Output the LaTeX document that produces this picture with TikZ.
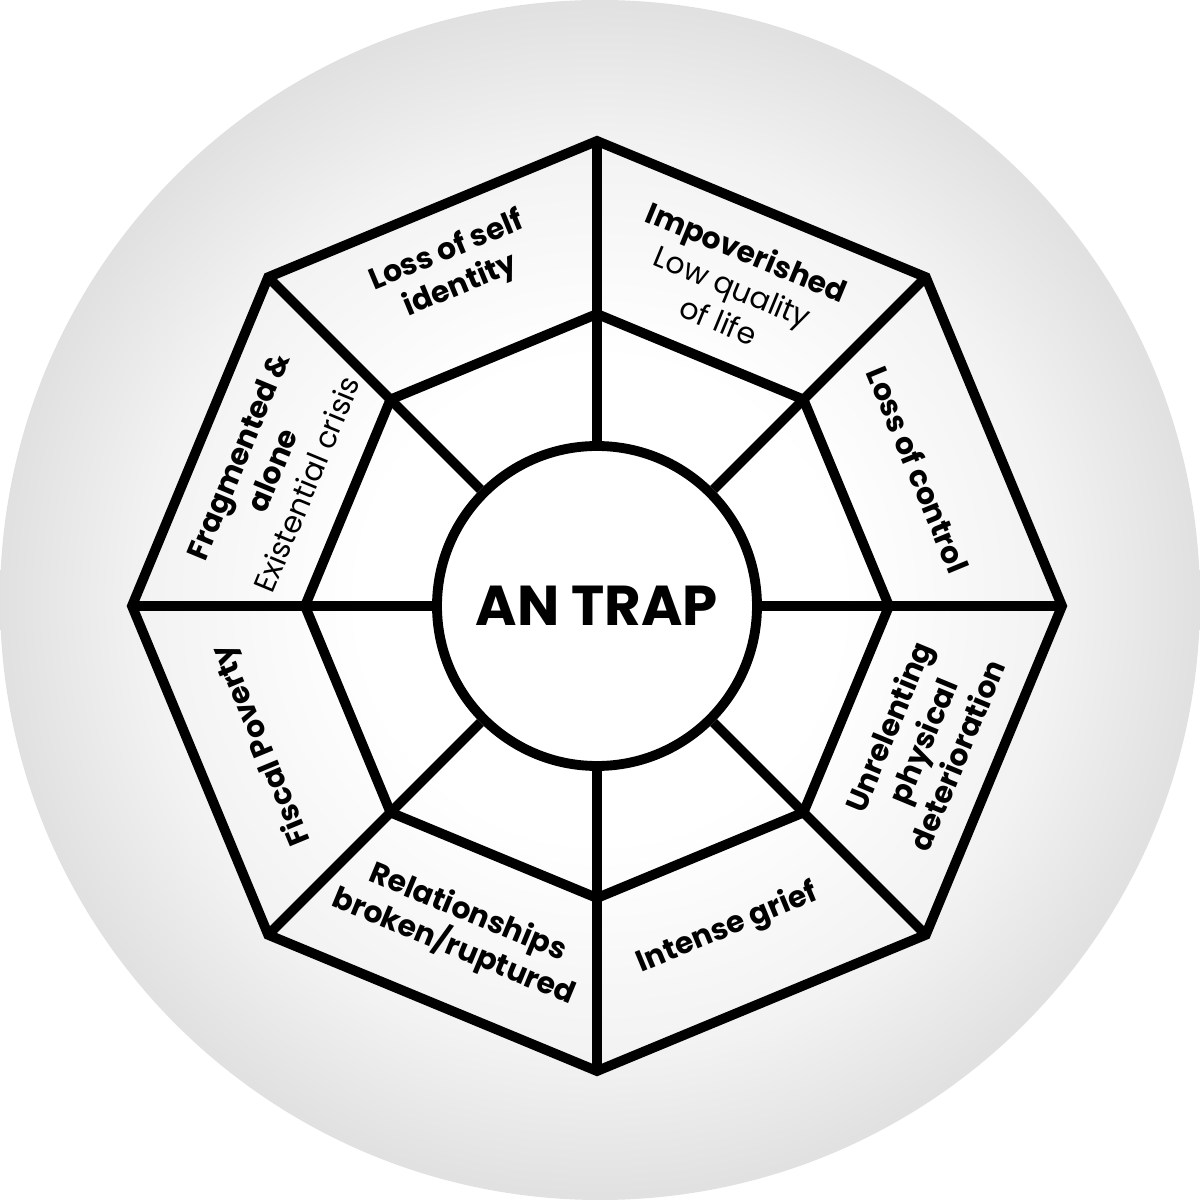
\documentclass[tikz,border=0pt]{standalone}
\usepackage{fontspec}
\setmainfont{Poppins}
\usetikzlibrary{positioning}
\pgfdeclareradialshading{discshade}{\pgfpoint{0bp}{0bp}}{color(0bp)=(white); color(10bp)=(white); color(19bp)=(black!5); color(25bp)=(black!12); color(50bp)=(black!12)}
\begin{document}
\begin{tikzpicture}[x=0.1mm, y=0.1mm, line width=2.8pt, line join=miter,
  lbl/.style={align=center, inner sep=0pt, font=\fontsize{8.5}{10.6}\selectfont\bfseries},
  hub/.style={circle, draw, fill=white, minimum size=3.2cm, inner sep=0pt, font=\fontsize{16}{18}\selectfont\bfseries}]
\useasboundingbox (-597,-594) rectangle (603,606);
\shade[shading=discshade] (3,6) circle (600);
\foreach \a [count=\i] in {0,45,...,315} {
  \coordinate (o\i) at (\a:465);
  \coordinate (n\i) at (\a:292);
}
\node[hub] (trap) at (0,0) {AN TRAP};
\draw (o1) -- (o2) -- (o3) -- (o4) -- (o5) -- (o6) -- (o7) -- (o8) -- cycle;
\draw (n1) -- (n2) -- (n3) -- (n4) -- (n5) -- (n6) -- (n7) -- (n8) -- cycle;
\foreach \i in {1,...,8} \draw (trap) -- (o\i);
\node[lbl, rotate=22.5] (self) at (113:366) {Loss of self\\identity};
\node[lbl, rotate=-22.5] (poor) at (67:348) {Impoverished\\\mdseries Low quality\\\mdseries of life};
\node[lbl, rotate=-67.5] (ctrl) at (23:349) {Loss of control};
\node[lbl, rotate=67.5] (body) at (-22.5:352) {Unrelenting\\physical\\deterioration};
\node[lbl, rotate=22.5] (grief) at (-68:348) {Intense grief};
\node[lbl, rotate=-22.5] (rel) at (-112.8:352) {Relationships\\broken/ruptured};
\node[lbl, rotate=112.5] (fisc) at (202.5:362) {Fiscal Poverty};
\node[lbl, rotate=67.5] (frag) at (157.3:352) {Fragmented \&\\alone\\\mdseries Existential crisis};
\end{tikzpicture}
\end{document}
